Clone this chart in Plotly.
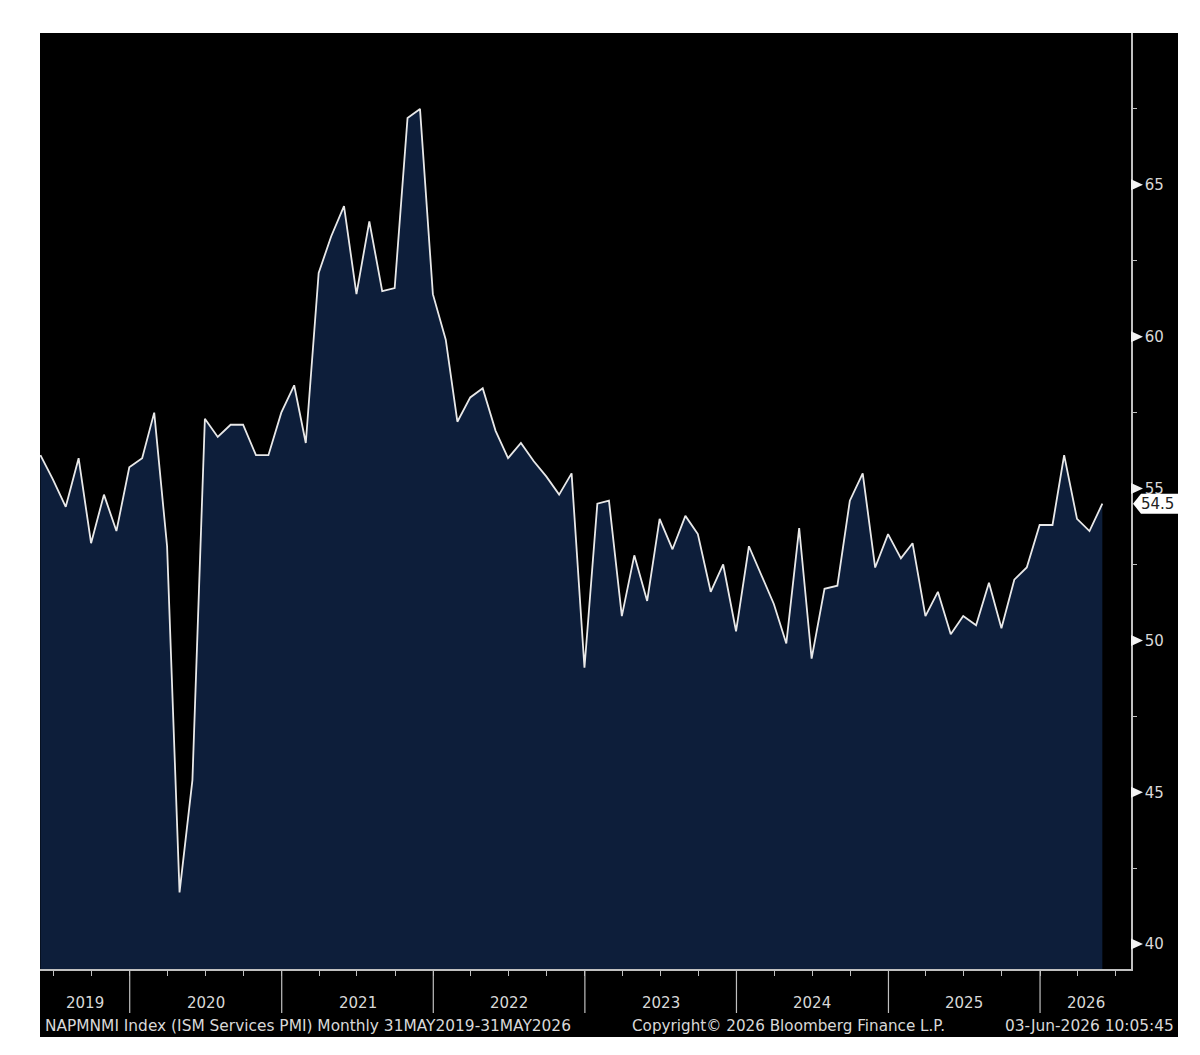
import plotly.graph_objects as go
import pandas as pd

# ---------------- data ----------------
start_month = "2019-05-31"
pmi_values = [
    # 2019 May-Dec
    56.1, 55.3, 54.4, 56.0, 53.2, 54.8, 53.6, 55.7,
    # 2020
    56.0, 57.5, 53.1, 41.7, 45.4, 57.3, 56.7, 57.1, 57.1, 56.1, 56.1, 57.5,
    # 2021
    58.4, 56.5, 62.1, 63.3, 64.3, 61.4, 63.8, 61.5, 61.6, 67.2, 67.5, 61.4,
    # 2022
    59.9, 57.2, 58.0, 58.3, 56.9, 56.0, 56.5, 55.9, 55.4, 54.8, 55.5, 49.1,
    # 2023
    54.5, 54.6, 50.8, 52.8, 51.3, 54.0, 53.0, 54.1, 53.5, 51.6, 52.5, 50.3,
    # 2024
    53.1, 52.2, 51.2, 49.9, 53.7, 49.4, 51.7, 51.8, 54.6, 55.5, 52.4, 53.5,
    # 2025
    52.7, 53.2, 50.8, 51.6, 50.2, 50.8, 50.5, 51.9, 50.4, 52.0, 52.4, 53.8,
    # 2026 Jan-May
    53.8, 56.1, 54.0, 53.6, 54.5,
]
year_labels = ["2019", "2020", "2021", "2022", "2023", "2024", "2025", "2026"]
y_ticks = [40, 45, 50, 55, 60, 65]
y_minor_ticks = [42.5, 47.5, 52.5, 57.5, 62.5, 67.5]
x_range = ["2019-05-30", "2026-08-08"]
y_range = [39.18, 70.0]
last_label = "54.5"
footer_left = "NAPMNMI Index (ISM Services PMI) Monthly 31MAY2019-31MAY2026"
footer_mid = "Copyright\u00a9 2026 Bloomberg Finance L.P."
footer_right = "03-Jun-2026 10:05:45"

try:
    dates = pd.date_range(start_month, periods=len(pmi_values), freq="ME")
except ValueError:
    dates = pd.date_range(start_month, periods=len(pmi_values), freq="M")

quarter_ticks = [d for d in pd.date_range("2019-04-01", "2026-07-01", freq="QS")
                 if pd.Timestamp(x_range[0]) <= d <= pd.Timestamp(x_range[1])]
year_starts = [pd.Timestamp(f"{y}-01-01") for y in year_labels[1:]]

# ---------------- style ----------------
FONT = "DejaVu Sans"
TXT = "#d8d8d8"
AXC = "#c0c0c0"
NAVY = "#0d1e3a"

fig = go.Figure()
fig.add_trace(go.Scatter(
    x=dates, y=pmi_values, mode="lines",
    line=dict(color="#e8e8e8", width=1.8),
    fill="tozeroy", fillcolor=NAVY,
    hoverinfo="skip", showlegend=False,
))

# black chart panel
px_w, px_h = 1091, 936
shapes = [dict(type="rect", xref="paper", yref="paper",
               x0=0, x1=(1178 - 40) / px_w, y0=-(1037 - 969) / px_h, y1=1,
               fillcolor="black", line=dict(width=0), layer="below")]
for ys in year_starts:
    shapes.append(dict(type="line", xref="x", yref="paper", x0=ys, x1=ys,
                       y0=0, y1=-(1013 - 969) / px_h,
                       line=dict(color=AXC, width=1.2)))
# white triangle markers on the major y ticks
for v in y_ticks:
    shapes.append(dict(type="path", xref="paper", yref="y",
                       xsizemode="pixel", ysizemode="pixel",
                       xanchor=1.0, yanchor=v,
                       path="M 0,-5.5 L 12,0 L 0,5.5 Z",
                       fillcolor="#f2f2f2", line=dict(width=0)))
# pointer of last-value tag
shapes.append(dict(type="path", xref="paper", yref="y",
                   xsizemode="pixel", ysizemode="pixel",
                   xanchor=1.0, yanchor=pmi_values[-1],
                   path="M 2,0 L 10,-10 L 47,-10 L 47,10 L 10,10 Z",
                   fillcolor="white", line=dict(width=0)))

annotations = []
xr0, xr1 = pd.Timestamp(x_range[0]), pd.Timestamp(x_range[1])
for lab in year_labels:
    a = max(pd.Timestamp(f"{lab}-01-01"), xr0)
    b = min(pd.Timestamp(f"{int(lab) + 1}-01-01"), xr1)
    mid = a + (b - a) / 2
    annotations.append(dict(x=mid, y=-(1003 - 969) / px_h, xref="x", yref="paper",
                            text=lab, showarrow=False, xanchor="center", yanchor="middle",
                            font=dict(family=FONT, size=15, color=TXT)))
fy = -(1026 - 969) / px_h
annotations += [
    dict(x=(43 - 40) / px_w, y=fy, xref="paper", yref="paper", text=footer_left,
         showarrow=False, xanchor="left", yanchor="middle",
         font=dict(family=FONT, size=15.4, color=TXT)),
    dict(x=(630 - 40) / px_w, y=fy, xref="paper", yref="paper", text=footer_mid,
         showarrow=False, xanchor="left", yanchor="middle",
         font=dict(family=FONT, size=15.2, color=TXT)),
    dict(x=(1176 - 40) / px_w, y=fy, xref="paper", yref="paper", text=footer_right,
         showarrow=False, xanchor="right", yanchor="middle",
         font=dict(family=FONT, size=15.4, color=TXT)),
    dict(x=(1176 - 40) / px_w, y=pmi_values[-1], xref="paper", yref="y",
         text=last_label, showarrow=False, xanchor="right", yanchor="middle",
         font=dict(family=FONT, size=15, color="#222222")),
]

fig.update_layout(
    width=1200, height=1055,
    margin=dict(l=40, r=69, t=33, b=86),
    paper_bgcolor="white", plot_bgcolor="black",
    showlegend=False, hovermode=False,
    xaxis=dict(
        type="date", range=x_range, showgrid=False, zeroline=False,
        showline=True, linecolor=AXC, linewidth=1.5,
        tickmode="array", tickvals=quarter_ticks, ticks="outside",
        ticklen=5, tickcolor=AXC, tickwidth=1.2, showticklabels=False,
    ),
    yaxis=dict(
        side="right", range=y_range, showgrid=False, zeroline=False,
        showline=True, linecolor=AXC, linewidth=1.5,
        tickmode="array", tickvals=y_ticks, ticktext=[str(v) for v in y_ticks],
        ticks="outside", ticklen=9, tickcolor="rgba(0,0,0,0)",
        tickfont=dict(family=FONT, size=15, color=TXT),
        minor=dict(tickvals=y_minor_ticks, ticks="outside", ticklen=4,
                   tickcolor=AXC, tickwidth=1.2),
    ),
    shapes=shapes, annotations=annotations,
)

fig.write_html("out.html")
